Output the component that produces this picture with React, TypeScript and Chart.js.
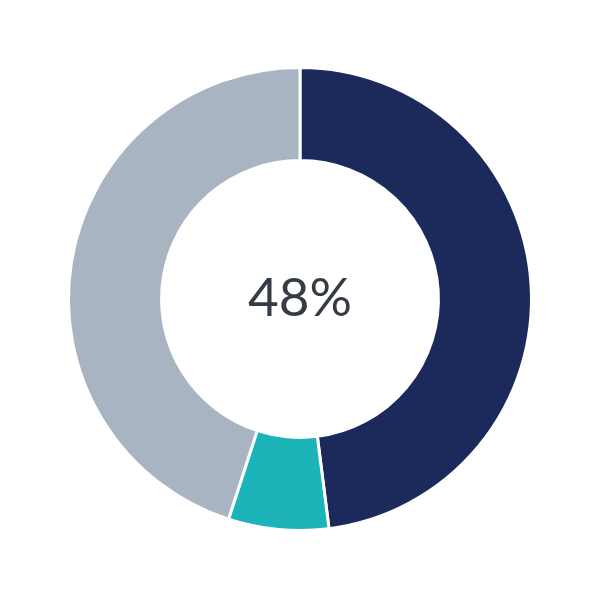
import React, { useEffect, useRef } from "react";
import { Chart, registerables, Plugin } from "chart.js";

Chart.register(...registerables);

const labels = ["Navy", "Teal", "Gray"];
const values = [48, 7, 45];
const colors = ["#1b2a5b", "#1cb4b8", "#a9b4c3"];
const centerLabel = "48%";

// draws the big percentage in the middle of the ring
const centerText: Plugin<"doughnut"> = {
  id: "centerText",
  afterDraw(chart) {
    const arc = chart.getDatasetMeta(0).data[0] as any;
    if (!arc) return;
    const ctx = chart.ctx;
    ctx.save();
    ctx.font = "400 53px Lato, 'Open Sans', sans-serif";
    ctx.fillStyle = "#363c45";
    ctx.textAlign = "center";
    ctx.textBaseline = "middle";
    ctx.fillText(centerLabel, arc.x, arc.y);
    ctx.restore();
  },
};

const App = () => {
  const canvasRef = useRef<HTMLCanvasElement | null>(null);

  useEffect(() => {
    if (!canvasRef.current) return;
    const chart = new Chart(canvasRef.current, {
      type: "doughnut",
      data: {
        labels,
        datasets: [
          {
            data: values,
            backgroundColor: colors,
            borderColor: "#ffffff",
            borderWidth: 3,
          },
        ],
      },
      options: {
        animation: false,
        responsive: false,
        cutout: "59.8%",
        layout: { padding: { top: 66, bottom: 68, left: 67, right: 67 } },
        plugins: {
          legend: { display: false },
          tooltip: { enabled: false },
        },
      },
      plugins: [centerText],
    });
    return () => chart.destroy();
  }, []);

  return (
    <div style={{ position: "fixed", left: 0, top: 0, width: 600, height: 600, background: "#fff" }}>
      <canvas ref={canvasRef} width={600} height={600} style={{ width: 600, height: 600 }} />
    </div>
  );
};

export default App;
